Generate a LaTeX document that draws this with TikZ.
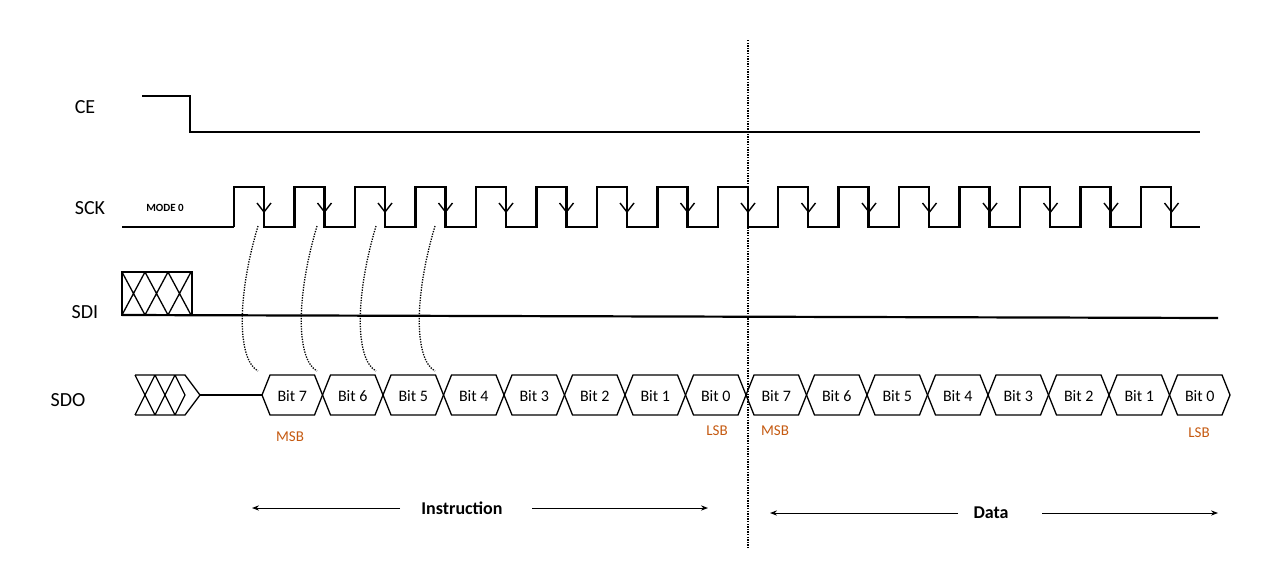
\documentclass[tikz,border=0pt]{standalone}
\usepackage{fontspec}
\setmainfont{Carlito}
\usetikzlibrary{arrows.meta}
\definecolor{org}{RGB}{197,90,17}
\begin{document}
\begin{tikzpicture}[x=1pt,y=-1pt,
  sig/.style={line width=2.2pt,line join=miter},
  thin/.style={line width=1.3pt},
  lbl/.style={font=\fontsize{20}{22}\selectfont},
  bit/.style={font=\fontsize{16}{18}\selectfont},
  ms/.style={font=\fontsize{15}{16}\selectfont,text=org},
  dots/.style={line width=1.3pt,dash pattern=on 1.3pt off 1.3pt}]
\useasboundingbox (0,0) rectangle (1261,576);
\node[lbl] (ce) at (85,107) {CE};
\node[lbl] (sck) at (90,208) {SCK};
\node[lbl] (sdi) at (85,312) {SDI};
\node[lbl] (sdo) at (68,400) {SDO};
\node[font=\bfseries\fontsize{11}{12}\selectfont] (mode) at (165,208) {MODE 0};
% CE
\draw[sig] (142,96) -- (190,96) -- (190,132) -- (1200,132);
% SCK
\draw[thin] (122,227) -- (234,227);
\draw[sig] (234,227)
 \foreach \k in {0,...,7}{ -- ({234+60.5*\k},187) -- ({264+60.5*\k},187) -- ({264+60.5*\k},227) -- ({294.5+60.5*\k},227)}
 -- (718,187) -- (748,187) -- (748,227)
 \foreach \k in {0,...,6}{ -- ({778+60.5*\k},227) -- ({778+60.5*\k},187) -- ({808+60.5*\k},187) -- ({808+60.5*\k},227)}
 -- (1200,227);
\foreach \k in {0,...,15}{
  \draw[line width=1.4pt] ({264+60.5*\k-7},203) -- ({264+60.5*\k},212) -- ({264+60.5*\k+7},203);}
% SDI
\draw[thin] (122,272) rectangle (192,315);
\draw[thin] (122,272) -- (145,315) (145,272) -- (122,315)
  (145,272) -- (168,315) (168,272) -- (145,315)
  (168,272) -- (191,315) (191,272) -- (168,315);
\draw[sig] (122,315) -- (1218,318);
% SDO front
\draw[thin] (135,375) -- (155,415) (155,375) -- (135,415)
  (155,375) -- (175,415) (175,375) -- (155,415)
  (135,375) -- (185,375) -- (200,395) -- (185,415) -- (135,415)
  (175,375) -- (185,395) -- (175,415);
\draw[thin] (200,395) -- (262,395);
% hexes
\foreach \k/\t in {0/Bit 7,1/Bit 6,2/Bit 5,3/Bit 4,4/Bit 3,5/Bit 2,6/Bit 1,7/Bit 0,8/Bit 7,9/Bit 6,10/Bit 5,11/Bit 4,12/Bit 3,13/Bit 2,14/Bit 1,15/Bit 0}{
  \pgfmathsetmacro\a{262+60.5*\k}
  \draw[thin] (\a,395) -- (\a+8,375) -- (\a+52.5,375) -- (\a+60.5,395) -- (\a+52.5,415) -- (\a+8,415) -- cycle;
  \node[bit] (b\k) at (\a+30.25,396) {\t};}
\node[ms] (m1) at (290,437) {MSB};
\node[ms] (l1) at (717,431) {LSB};
\node[ms] (m2) at (775,431) {MSB};
\node[ms] (l2) at (1199,433) {LSB};
% dotted curves
\foreach \k in {0,...,3}{
  \pgfmathsetmacro\a{258+59*\k}
  \draw[dots] (\a,226) .. controls (\a-22,300) and (\a-20,360) .. (\a,371);}
% divider
\draw[dots] (748,40) -- (748,548);
% arrows
\node[font=\bfseries\fontsize{18}{20}\selectfont] (ins) at (462,508) {Instruction};
\node[font=\bfseries\fontsize{18}{20}\selectfont] (dat) at (991,513) {Data};
\draw[line width=1pt,-{Stealth[length=7pt]}] (400,508) -- (252,508);
\draw[line width=1pt,-{Stealth[length=7pt]}] (532,508) -- (708,508);
\draw[line width=1pt,-{Stealth[length=7pt]}] (958,513) -- (770,513);
\draw[line width=1pt,-{Stealth[length=7pt]}] (1042,513) -- (1218,513);
\end{tikzpicture}
\end{document}
